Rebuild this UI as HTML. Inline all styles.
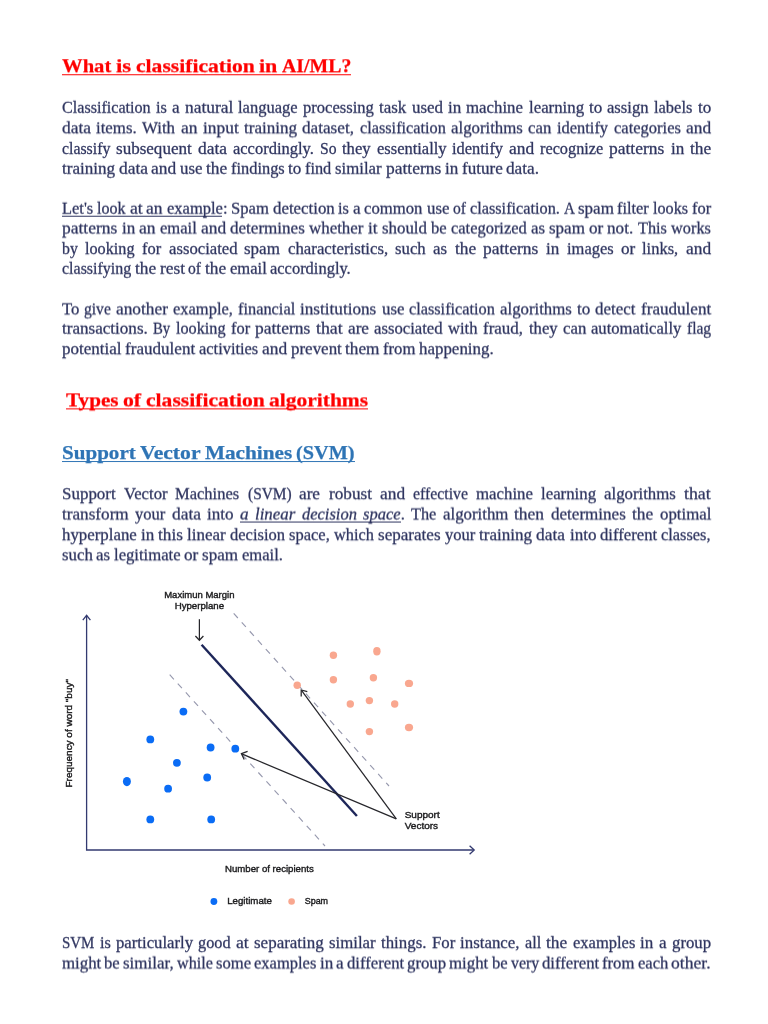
<!DOCTYPE html><html><head><meta charset="utf-8"><title>doc</title><style>

*{margin:0;padding:0;box-sizing:border-box}
html,body{width:768px;height:1024px;background:#fff;overflow:hidden}
body{position:relative;font-family:"Liberation Serif",serif;color:#2e345f}
.l{position:absolute;white-space:pre;line-height:1;height:0;filter:blur(0.4px);transform-origin:324px 0}
.l span{position:absolute;top:0;white-space:pre;transform-origin:0 0}
.b{font-size:17.0px;-webkit-text-stroke:0.28px currentColor}
.h{font-size:19.5px;font-weight:bold;-webkit-text-stroke:0.25px currentColor}
.r{color:#fe0000}
.bl{color:#2e74b5}
.ul{position:absolute;height:1.1px;background:currentColor}

svg{position:absolute;left:0;top:0;filter:blur(0.35px)}
svg text{font-family:"Liberation Sans",sans-serif}

</style></head><body>
<div class="l b" style="left:62.0px;top:98px;transform:translateY(0.85px) rotate(0.002deg)"><span style="left:0.00px;transform:scaleX(0.9484)">Classification </span><span style="left:93.86px;transform:scaleX(0.9614)">is </span><span style="left:109.98px;transform:scaleX(1.0041)">a </span><span style="left:122.76px;transform:scaleX(1.0238)">natural </span><span style="left:176.29px;transform:scaleX(0.9707)">language </span><span style="left:241.06px;transform:scaleX(0.9746)">processing </span><span style="left:317.15px;transform:scaleX(0.9971)">task </span><span style="left:349.66px;transform:scaleX(0.9960)">used </span><span style="left:385.92px;transform:scaleX(1.0047)">in </span><span style="left:404.42px;transform:scaleX(0.9889)">machine </span><span style="left:466.58px;transform:scaleX(0.9896)">learning </span><span style="left:526.91px;transform:scaleX(1.0047)">to </span><span style="left:545.42px;transform:scaleX(0.9768)">assign </span><span style="left:592.14px;transform:scaleX(0.9673)">labels </span><span style="left:635.70px;transform:scaleX(1.0047)">to</span></div>
<div class="l b" style="left:62.0px;top:119px;transform:translateY(0.35px) rotate(0.002deg)"><span style="left:0.00px;transform:scaleX(1.0232)">data </span><span style="left:34.40px;transform:scaleX(0.9894)">items. </span><span style="left:80.46px;transform:scaleX(0.9911)">With </span><span style="left:118.89px;transform:scaleX(1.0263)">an </span><span style="left:140.77px;transform:scaleX(1.0219)">input </span><span style="left:181.90px;transform:scaleX(1.0050)">training </span><span style="left:240.47px;transform:scaleX(1.0103)">dataset, </span><span style="left:297.86px;transform:scaleX(0.9568)">classification </span><span style="left:389.10px;transform:scaleX(0.9884)">algorithms </span><span style="left:466.39px;transform:scaleX(0.9868)">can </span><span style="left:495.08px;transform:scaleX(0.9654)">identify </span><span style="left:551.56px;transform:scaleX(0.9714)">categories </span><span style="left:623.91px;transform:scaleX(1.0223)">and</span></div>
<div class="l b" style="left:62.0px;top:140px;transform:translateY(0.05px) rotate(0.002deg)"><span style="left:0.00px;transform:scaleX(0.9317)">classify </span><span style="left:54.32px;transform:scaleX(1.0023)">subsequent </span><span style="left:135.96px;transform:scaleX(1.0232)">data </span><span style="left:170.87px;transform:scaleX(0.9691)">accordingly. </span><span style="left:257.61px;transform:scaleX(0.9209)">So </span><span style="left:280.08px;transform:scaleX(0.9771)">they </span><span style="left:314.62px;transform:scaleX(0.9695)">essentially </span><span style="left:390.12px;transform:scaleX(0.9654)">identify </span><span style="left:447.11px;transform:scaleX(1.0223)">and </span><span style="left:478.13px;transform:scaleX(0.9570)">recognize </span><span style="left:547.29px;transform:scaleX(1.0282)">patterns </span><span style="left:608.56px;transform:scaleX(1.0047)">in </span><span style="left:627.78px;transform:scaleX(1.0211)">the</span></div>
<div class="l b" style="left:62.0px;top:159px;transform:translateY(0.85px) rotate(0.002deg)"><span style="left:0.00px;transform:scaleX(1.0053)">training </span><span style="left:56.81px;transform:scaleX(1.0234)">data </span><span style="left:89.44px;transform:scaleX(1.0225)">and </span><span style="left:118.18px;transform:scaleX(0.9892)">use </span><span style="left:144.25px;transform:scaleX(1.0213)">the </span><span style="left:169.12px;transform:scaleX(0.9638)">findings </span><span style="left:226.47px;transform:scaleX(1.0050)">to </span><span style="left:243.42px;transform:scaleX(0.9597)">find </span><span style="left:273.34px;transform:scaleX(0.9867)">similar </span><span style="left:323.57px;transform:scaleX(1.0284)">patterns </span><span style="left:382.57px;transform:scaleX(1.0050)">in </span><span style="left:399.51px;transform:scaleX(1.0052)">future </span><span style="left:443.96px;transform:scaleX(1.0141)">data.</span></div>
<div class="l b" style="left:62.0px;top:199px;transform:translateY(0.75px) rotate(0.002deg)"><span style="left:0.00px;transform:scaleX(0.9667)">Let's </span><span style="left:35.13px;transform:scaleX(0.9447)">look </span><span style="left:67.56px;transform:scaleX(1.0394)">at </span><span style="left:84.19px;transform:scaleX(1.0263)">an </span><span style="left:104.52px;transform:scaleX(0.9712)">example: </span><span style="left:168.92px;transform:scaleX(0.9770)">Spam </span><span style="left:210.63px;transform:scaleX(0.9912)">detection </span><span style="left:276.26px;transform:scaleX(0.9614)">is </span><span style="left:291.03px;transform:scaleX(1.0041)">a </span><span style="left:302.47px;transform:scaleX(0.9816)">common </span><span style="left:364.74px;transform:scaleX(0.9890)">use </span><span style="left:391.03px;transform:scaleX(0.9173)">of </span><span style="left:407.89px;transform:scaleX(0.9568)">classification. </span><span style="left:501.65px;transform:scaleX(0.8898)">A </span><span style="left:515.61px;transform:scaleX(1.0004)">spam </span><span style="left:555.38px;transform:scaleX(0.9584)">filter </span><span style="left:590.92px;transform:scaleX(0.9517)">looks </span><span style="left:629.84px;transform:scaleX(0.9661)">for</span><div class="ul" style="left:0.00px;width:160.35px;top:16.40px"></div></div>
<div class="l b" style="left:62.0px;top:219px;transform:translateY(0.55px) rotate(0.002deg)"><span style="left:0.00px;transform:scaleX(1.0282)">patterns </span><span style="left:59.56px;transform:scaleX(1.0047)">in </span><span style="left:77.07px;transform:scaleX(1.0263)">an </span><span style="left:97.75px;transform:scaleX(0.9743)">email </span><span style="left:138.77px;transform:scaleX(1.0223)">and </span><span style="left:168.07px;transform:scaleX(1.0027)">determines </span><span style="left:247.09px;transform:scaleX(0.9946)">whether </span><span style="left:305.77px;transform:scaleX(1.0149)">it </span><span style="left:319.58px;transform:scaleX(0.9910)">should </span><span style="left:368.73px;transform:scaleX(0.9776)">be </span><span style="left:388.63px;transform:scaleX(0.9669)">categorized </span><span style="left:468.60px;transform:scaleX(0.9934)">as </span><span style="left:486.89px;transform:scaleX(1.0004)">spam </span><span style="left:527.01px;transform:scaleX(1.0066)">or </span><span style="left:545.49px;transform:scaleX(1.0096)">not. </span><span style="left:575.94px;transform:scaleX(0.9576)">This </span><span style="left:609.11px;transform:scaleX(0.9598)">works</span></div>
<div class="l b" style="left:62.0px;top:240px;transform:translateY(0.15px) rotate(0.002deg)"><span style="left:0.00px;transform:scaleX(0.9311)">by </span><span style="left:23.19px;transform:scaleX(0.9528)">looking </span><span style="left:80.04px;transform:scaleX(0.9661)">for </span><span style="left:106.56px;transform:scaleX(0.9814)">associated </span><span style="left:182.48px;transform:scaleX(1.0004)">spam </span><span style="left:225.74px;transform:scaleX(0.9874)">characteristics, </span><span style="left:333.29px;transform:scaleX(0.9855)">such </span><span style="left:371.37px;transform:scaleX(0.9934)">as </span><span style="left:392.80px;transform:scaleX(1.0211)">the </span><span style="left:421.38px;transform:scaleX(1.0282)">patterns </span><span style="left:484.08px;transform:scaleX(1.0047)">in </span><span style="left:504.74px;transform:scaleX(0.9685)">images </span><span style="left:558.74px;transform:scaleX(1.0066)">or </span><span style="left:580.36px;transform:scaleX(0.9698)">links, </span><span style="left:623.91px;transform:scaleX(1.0223)">and</span></div>
<div class="l b" style="left:62.0px;top:259px;transform:translateY(0.85px) rotate(0.002deg)"><span style="left:0.00px;transform:scaleX(0.9402)">classifying </span><span style="left:72.89px;transform:scaleX(1.0199)">the </span><span style="left:97.72px;transform:scaleX(1.0218)">rest </span><span style="left:126.43px;transform:scaleX(0.9163)">of </span><span style="left:143.06px;transform:scaleX(1.0199)">the </span><span style="left:167.89px;transform:scaleX(0.9732)">email </span><span style="left:208.28px;transform:scaleX(0.9680)">accordingly.</span></div>
<div class="l b" style="left:62.0px;top:300px;transform:translateY(0.45px) rotate(0.002deg)"><span style="left:0.00px;transform:scaleX(0.9832)">To </span><span style="left:22.45px;transform:scaleX(0.9152)">give </span><span style="left:54.30px;transform:scaleX(1.0184)">another </span><span style="left:111.27px;transform:scaleX(0.9684)">example, </span><span style="left:176.20px;transform:scaleX(0.9619)">financial </span><span style="left:238.45px;transform:scaleX(1.0093)">institutions </span><span style="left:319.78px;transform:scaleX(0.9890)">use </span><span style="left:347.25px;transform:scaleX(0.9568)">classification </span><span style="left:438.12px;transform:scaleX(0.9884)">algorithms </span><span style="left:515.05px;transform:scaleX(1.0047)">to </span><span style="left:533.39px;transform:scaleX(0.9946)">detect </span><span style="left:578.81px;transform:scaleX(1.0047)">fraudulent</span></div>
<div class="l b" style="left:62.0px;top:319px;transform:translateY(0.75px) rotate(0.002deg)"><span style="left:0.00px;transform:scaleX(1.0044)">transactions. </span><span style="left:91.21px;transform:scaleX(0.8685)">By </span><span style="left:113.82px;transform:scaleX(0.9528)">looking </span><span style="left:168.71px;transform:scaleX(0.9661)">for </span><span style="left:193.24px;transform:scaleX(1.0282)">patterns </span><span style="left:253.97px;transform:scaleX(1.0472)">that </span><span style="left:286.05px;transform:scaleX(1.0113)">are </span><span style="left:312.43px;transform:scaleX(0.9814)">associated </span><span style="left:386.38px;transform:scaleX(0.9736)">with </span><span style="left:421.19px;transform:scaleX(0.9957)">fraud, </span><span style="left:466.53px;transform:scaleX(0.9771)">they </span><span style="left:500.52px;transform:scaleX(0.9868)">can </span><span style="left:529.18px;transform:scaleX(0.9762)">automatically </span><span style="left:624.89px;transform:scaleX(0.9119)">flag</span></div>
<div class="l b" style="left:62.0px;top:340px;transform:translateY(0.25px) rotate(0.002deg)"><span style="left:0.00px;transform:scaleX(1.0008)">potential </span><span style="left:63.17px;transform:scaleX(1.0052)">fraudulent </span><span style="left:137.04px;transform:scaleX(0.9654)">activities </span><span style="left:199.93px;transform:scaleX(1.0228)">and </span><span style="left:228.68px;transform:scaleX(0.9971)">prevent </span><span style="left:283.16px;transform:scaleX(1.0138)">them </span><span style="left:321.27px;transform:scaleX(0.9806)">from </span><span style="left:357.32px;transform:scaleX(0.9947)">happening.</span></div>
<div class="l b" style="left:62.0px;top:485px;transform:translateY(0.25px) rotate(0.002deg)"><span style="left:0.00px;transform:scaleX(0.9974)">Support </span><span style="left:61.81px;transform:scaleX(0.9817)">Vector </span><span style="left:113.47px;transform:scaleX(0.9704)">Machines </span><span style="left:185.72px;transform:scaleX(0.9066)">(SVM) </span><span style="left:237.49px;transform:scaleX(1.0113)">are </span><span style="left:266.60px;transform:scaleX(1.0121)">robust </span><span style="left:317.72px;transform:scaleX(1.0223)">and </span><span style="left:350.91px;transform:scaleX(0.9300)">effective </span><span style="left:414.03px;transform:scaleX(0.9889)">machine </span><span style="left:479.09px;transform:scaleX(0.9896)">learning </span><span style="left:542.32px;transform:scaleX(0.9884)">algorithms </span><span style="left:622.30px;transform:scaleX(1.0472)">that</span></div>
<div class="l b" style="left:62.0px;top:505px;transform:translateY(0.55px) rotate(0.002deg)"><span style="left:0.00px;transform:scaleX(1.0090)">transform </span><span style="left:73.05px;transform:scaleX(0.9724)">your </span><span style="left:109.72px;transform:scaleX(1.0232)">data </span><span style="left:145.06px;transform:scaleX(1.0047)">into </span><span style="left:178.00px;transform:scaleX(1.0129)"><i>a</i> </span><span style="left:192.96px;transform:scaleX(0.9915)"><i>linear</i> </span><span style="left:239.59px;transform:scaleX(0.9694)"><i>decision</i> </span><span style="left:300.87px;transform:scaleX(0.9720)"><i>space</i>. </span><span style="left:348.99px;transform:scaleX(0.9580)">The </span><span style="left:380.68px;transform:scaleX(0.9889)">algorithm </span><span style="left:452.41px;transform:scaleX(1.0277)">then </span><span style="left:488.86px;transform:scaleX(1.0027)">determines </span><span style="left:570.02px;transform:scaleX(1.0211)">the </span><span style="left:597.59px;transform:scaleX(0.9895)">optimal</span><div class="ul" style="left:178.00px;width:160.57px;top:16.40px"></div></div>
<div class="l b" style="left:62.0px;top:526px;transform:translateY(0.25px) rotate(0.002deg)"><span style="left:0.00px;transform:scaleX(0.9901)">hyperplane </span><span style="left:78.90px;transform:scaleX(1.0047)">in </span><span style="left:96.32px;transform:scaleX(1.0115)">this </span><span style="left:125.28px;transform:scaleX(0.9972)">linear </span><span style="left:168.00px;transform:scaleX(0.9710)">decision </span><span style="left:227.13px;transform:scaleX(0.9714)">space, </span><span style="left:272.06px;transform:scaleX(0.9583)">which </span><span style="left:316.00px;transform:scaleX(1.0048)">separates </span><span style="left:382.73px;transform:scaleX(0.9724)">your </span><span style="left:417.16px;transform:scaleX(1.0050)">training </span><span style="left:474.44px;transform:scaleX(1.0232)">data </span><span style="left:507.54px;transform:scaleX(1.0047)">into </span><span style="left:538.24px;transform:scaleX(0.9812)">different </span><span style="left:599.48px;transform:scaleX(0.9621)">classes,</span></div>
<div class="l b" style="left:62.0px;top:546px;transform:translateY(0.35px) rotate(0.002deg)"><span style="left:0.00px;transform:scaleX(0.9876)">such </span><span style="left:34.43px;transform:scaleX(0.9956)">as </span><span style="left:52.19px;transform:scaleX(0.9803)">legitimate </span><span style="left:122.49px;transform:scaleX(1.0088)">or </span><span style="left:140.43px;transform:scaleX(1.0026)">spam </span><span style="left:180.07px;transform:scaleX(0.9742)">email.</span></div>
<div class="l b" style="left:62.0px;top:934px;transform:translateY(0.15px) rotate(0.002deg)"><span style="left:0.00px;transform:scaleX(0.8788)">SVM </span><span style="left:37.65px;transform:scaleX(0.9614)">is </span><span style="left:53.81px;transform:scaleX(0.9842)">particularly </span><span style="left:136.20px;transform:scaleX(0.9559)">good </span><span style="left:173.96px;transform:scaleX(1.0394)">at </span><span style="left:191.98px;transform:scaleX(0.9991)">separating </span><span style="left:267.03px;transform:scaleX(0.9864)">similar </span><span style="left:318.87px;transform:scaleX(0.9918)">things. </span><span style="left:369.57px;transform:scaleX(0.9854)">For </span><span style="left:398.11px;transform:scaleX(0.9937)">instance, </span><span style="left:462.94px;transform:scaleX(0.9522)">all </span><span style="left:484.39px;transform:scaleX(1.0211)">the </span><span style="left:510.87px;transform:scaleX(0.9708)">examples </span><span style="left:578.45px;transform:scaleX(1.0047)">in </span><span style="left:597.01px;transform:scaleX(1.0041)">a </span><span style="left:609.84px;transform:scaleX(0.9870)">group</span></div>
<div class="l b" style="left:62.0px;top:954px;transform:translateY(0.55px) rotate(0.002deg)"><span style="left:0.00px;transform:scaleX(0.9894)">might </span><span style="left:42.39px;transform:scaleX(0.9776)">be </span><span style="left:61.23px;transform:scaleX(0.9969)">similar, </span><span style="left:115.01px;transform:scaleX(0.9479)">while </span><span style="left:153.97px;transform:scaleX(0.9782)">some </span><span style="left:192.22px;transform:scaleX(0.9708)">examples </span><span style="left:257.70px;transform:scaleX(1.0047)">in </span><span style="left:274.14px;transform:scaleX(1.0041)">a </span><span style="left:284.86px;transform:scaleX(0.9812)">different </span><span style="left:345.13px;transform:scaleX(0.9870)">group </span><span style="left:387.43px;transform:scaleX(0.9894)">might </span><span style="left:429.82px;transform:scaleX(0.9776)">be </span><span style="left:448.66px;transform:scaleX(0.9364)">very </span><span style="left:480.10px;transform:scaleX(0.9812)">different </span><span style="left:540.37px;transform:scaleX(0.9801)">from </span><span style="left:575.90px;transform:scaleX(0.9769)">each </span><span style="left:609.47px;transform:scaleX(1.0335)">other.</span></div>
<div class="l h r" style="left:62.0px;top:56px;transform:translateY(0.25px) rotate(0.002deg)"><span style="left:0.00px;transform:scaleX(1.0585)">What </span><span style="left:53.79px;transform:scaleX(1.1729)">is </span><span style="left:73.53px;transform:scaleX(1.1083)">classification </span><span style="left:196.87px;transform:scaleX(1.1299)">in </span><span style="left:219.72px;transform:scaleX(1.0151)">AI/ML?</span><div class="ul" style="left:0;width:289.00px;top:18.00px;height:1.3px"></div></div>
<div class="l h r" style="left:66px;top:390px;transform:translateY(0.40px) rotate(0.002deg)"><span style="left:0.00px;transform:scaleX(1.0865)">Types </span><span style="left:57.06px;transform:scaleX(1.1148)">of </span><span style="left:79.65px;transform:scaleX(1.1074)">classification </span><span style="left:202.89px;transform:scaleX(1.1022)">algorithms</span><div class="ul" style="left:0;width:302.00px;top:18.00px;height:1.3px"></div></div>
<div class="l h bl" style="left:62.0px;top:443px;transform:translateY(0.05px) rotate(0.002deg)"><span style="left:0.00px;transform:scaleX(1.0802)">Support </span><span style="left:78.22px;transform:scaleX(1.1102)">Vector </span><span style="left:142.81px;transform:scaleX(1.0875)">Machines </span><span style="left:234.47px;transform:scaleX(1.0391)">(SVM)</span><div class="ul" style="left:0;width:293.00px;top:18.00px;height:1.3px"></div></div>
<svg width="768" height="1024" viewBox="0 0 768 1024">
<g fill="none" stroke-linecap="butt">
<!-- axes -->
<path d="M86.6 615.5V850H473.5" stroke="#333a70" stroke-width="1.3"/>
<path d="M82.8 620.2L86.6 615.3L90.4 620.2" stroke="#333a70" stroke-width="1.3"/>
<path d="M469.6 845.8L474.2 850L469.6 854.2" stroke="#333a70" stroke-width="1.3"/>
<!-- dashed margins -->
<path d="M169.7 674.7L325 846" stroke="#9799ae" stroke-width="1.15" stroke-dasharray="6.2 5.8"/>
<path d="M233.7 613.4L389 786" stroke="#9799ae" stroke-width="1.15" stroke-dasharray="6.2 5.8"/>
<!-- hyperplane -->
<path d="M201.6 644.7L356.9 816" stroke="#1d2659" stroke-width="2.4"/>
<!-- arrows -->
<path d="M396.3 818.8L241.8 753.9" stroke="#26262b" stroke-width="1.25"/>
<path d="M247.6 751.4L241.4 753.6L244.2 759.4" stroke="#26262b" stroke-width="1.25"/>
<path d="M396.3 818.8L301.5 690.4" stroke="#26262b" stroke-width="1.25"/>
<path d="M307.3 691.6L301.2 690L301.2 696.4" stroke="#26262b" stroke-width="1.25"/>
<path d="M199.4 619.2V640" stroke="#26262b" stroke-width="1.25"/>
<path d="M195.4 636L199.4 640.3L203.4 636" stroke="#26262b" stroke-width="1.25"/>
</g>
<g fill="#0a6cf5">
<circle cx="183.4" cy="711.6" r="3.9"/>
<circle cx="150.3" cy="739.4" r="3.9"/>
<circle cx="210.6" cy="747.5" r="3.9"/>
<circle cx="235.3" cy="748.7" r="3.9"/>
<circle cx="176.9" cy="762.8" r="3.9"/>
<ellipse cx="126.9" cy="781.6" rx="4" ry="4.6"/>
<circle cx="207.2" cy="777.5" r="3.9"/>
<circle cx="168.1" cy="788.7" r="3.9"/>
<circle cx="150.3" cy="819.4" r="3.9"/>
<circle cx="211.2" cy="819.4" r="3.9"/>
<circle cx="213.9" cy="901.5" r="3.4"/>
</g>
<g fill="#f9a78f">
<circle cx="333.4" cy="655.3" r="3.7"/>
<ellipse cx="376.9" cy="651.2" rx="3.7" ry="4.2"/>
<circle cx="297.2" cy="685.3" r="3.7"/>
<circle cx="333.4" cy="679.7" r="3.7"/>
<circle cx="373.4" cy="677.8" r="3.7"/>
<ellipse cx="409" cy="683.4" rx="4.1" ry="3.7"/>
<circle cx="350.3" cy="704" r="3.7"/>
<circle cx="369.4" cy="700.6" r="3.7"/>
<circle cx="394.7" cy="704" r="3.7"/>
<circle cx="369.4" cy="731.6" r="3.7"/>
<ellipse cx="409" cy="727.5" rx="4.1" ry="3.7"/>
<circle cx="291.6" cy="901.5" r="3.3"/>
</g>
<g fill="#1c1c1e" font-size="9.5" stroke="#1c1c1e" stroke-width="0.4">
<text x="164.2" y="598" textLength="70.3" lengthAdjust="spacingAndGlyphs">Maximun Margin</text>
<text x="174.7" y="609.3" textLength="49.4" lengthAdjust="spacingAndGlyphs">Hyperplane</text>
<text x="404.7" y="818.2" textLength="35" lengthAdjust="spacingAndGlyphs">Support</text>
<text x="404.7" y="829.4" textLength="33.4" lengthAdjust="spacingAndGlyphs">Vectors</text>
<text x="225" y="872.2" textLength="88.75" lengthAdjust="spacingAndGlyphs">Number of recipients</text>
<text x="227.2" y="904.2" textLength="44.7" lengthAdjust="spacingAndGlyphs">Legitimate</text>
<text x="304.7" y="904.2" textLength="23.4" lengthAdjust="spacingAndGlyphs">Spam</text>
<text transform="translate(71.5 787.5) rotate(-90)" textLength="108.5" lengthAdjust="spacingAndGlyphs">Frequency of word "buy"</text>
</g>
</svg>

</body></html>
